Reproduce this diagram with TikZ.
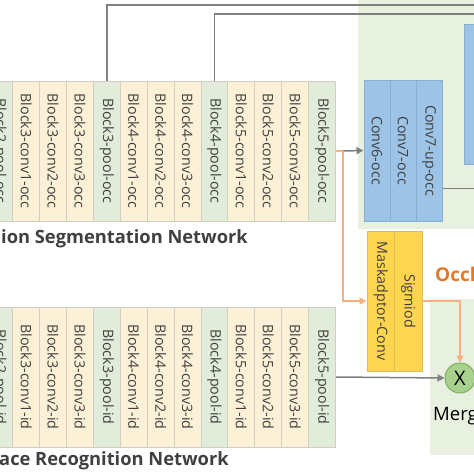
\documentclass[tikz,border=0pt]{standalone}
\usepackage{fontspec}
\setmainfont{Open Sans}
\usetikzlibrary{arrows.meta}
\definecolor{cyel}{HTML}{FCF1D6}
\definecolor{cgrn}{HTML}{E2ECDA}
\definecolor{cbrd}{HTML}{D2CEC2}
\definecolor{ctxt}{HTML}{404040}
\definecolor{cblue}{HTML}{9DC3E6}
\definecolor{cblueb}{HTML}{8AAED3}
\definecolor{cgold}{HTML}{FFD54F}
\definecolor{cgoldb}{HTML}{D9BD5E}
\definecolor{cpanel}{HTML}{E8F0E0}
\definecolor{cline}{HTML}{808080}
\definecolor{corg}{HTML}{F4B183}
\definecolor{corgt}{HTML}{E07B2C}
\definecolor{ccirc}{HTML}{A9D18E}
\definecolor{ccircb}{HTML}{7FB060}
\begin{document}
\begin{tikzpicture}[x=1pt,y=-1pt,
  colbox/.style={draw=cbrd, line width=1pt, rotate=-90, minimum width=140pt, minimum height=26.9pt, inner sep=0pt, text=ctxt, font=\fontsize{14.3}{16}\selectfont},
  bcol/.style={colbox, fill=cblue, draw=cblueb, minimum width=141pt, minimum height=26pt},
  gold/.style={colbox, fill=cgold, draw=cgoldb, minimum width=140pt, minimum height=27.5pt},
  graywire/.style={draw=cline, line width=1.5pt},
  orgwire/.style={draw=corg, line width=1.5pt},
  tip/.style={-{Triangle[length=7pt,width=7pt]}},
  netlabel/.style={anchor=base west, inner sep=0pt, text=ctxt, font=\fontsize{18.3}{20}\selectfont\bfseries},
  panel/.style={fill=cpanel, draw=none}
]
\useasboundingbox (0,0) rectangle (474,474);
\clip (0,0) rectangle (474,474);

% panels
\fill[cpanel] (358,-10) rectangle (490,229);
\fill[cpanel] (430,299) rectangle (490,455);

% top network
\foreach \i/\t/\c in {0/Block2-pool-occ/cgrn, 1/Block3-conv1-occ/cyel, 2/Block3-conv2-occ/cyel, 3/Block3-conv3-occ/cyel, 4/Block3-pool-occ/cgrn, 5/Block4-conv1-occ/cyel, 6/Block4-conv2-occ/cyel, 7/Block4-conv3-occ/cyel, 8/Block4-pool-occ/cgrn, 9/Block5-conv1-occ/cyel, 10/Block5-conv2-occ/cyel, 11/Block5-conv3-occ/cyel, 12/Block5-pool-occ/cgrn}
  \node[colbox, fill=\c] (t\i) at ({12.7+(\i-0.5)*26.9},151) {\t};

% bottom network
\foreach \i/\t/\c in {0/Block2-pool-id/cgrn, 1/Block3-conv1-id/cyel, 2/Block3-conv2-id/cyel, 3/Block3-conv3-id/cyel, 4/Block3-pool-id/cgrn, 5/Block4-conv1-id/cyel, 6/Block4-conv2-id/cyel, 7/Block4-conv3-id/cyel, 8/Block4-pool-id/cgrn, 9/Block5-conv1-id/cyel, 10/Block5-conv2-id/cyel, 11/Block5-conv3-id/cyel, 12/Block5-pool-id/cgrn}
  \node[colbox, fill=\c] (d\i) at ({12.7+(\i-0.5)*26.9},377) {\t};

\node[netlabel] (lab1) at (1,243) {ion Segmentation Network};
\node[netlabel] (lab2) at (-1,465) {ace Recognition Network};

% conv blocks
\node[bcol] (b1) at (377,150.5) {Conv6-occ};
\node[bcol] (b2) at (403,150.5) {Conv7-occ};
\node[bcol] (b3) at (429,150.5) {Conv7-up-occ};
\node[bcol, minimum width=140pt, minimum height=40pt] (b4) at (484,94) {};

% mask adaptor
\node[gold] (m1) at (380.75,301) {Maskadptor-Conv};
\node[gold] (m2) at (408.25,301) {Sigmiod};

% merge
\node[circle, fill=ccirc, draw=ccircb, line width=1pt, minimum size=30pt, inner sep=0pt, font=\fontsize{20}{22}\selectfont] (circ) at (460,378) {X};
\node[anchor=base west, inner sep=0pt, font=\fontsize{18.5}{20}\selectfont] (merg) at (433,420) {Merg};
\node[anchor=base west, inner sep=0pt, text=corgt, font=\fontsize{19}{22}\selectfont\bfseries] (occl) at (435,281) {Occl};

% top skip lines
\coordinate (e1) at (490,5);
\coordinate (e2) at (490,14);
\draw[graywire] (t4.west) |- (e1);
\draw[graywire] (t8.west) |- (e2);
\draw[graywire] ([yshift=-38pt]b3.north) -- ++(50,0);

% connectors
\coordinate (ob) at (343,151);
\draw[orgwire] (t12.north) -- (ob);
\draw[graywire, tip] (ob) -- (b1.south);
\draw[orgwire, tip] (ob) |- (m1.south);
\draw[orgwire, tip] (m2.north) -| (circ.north);
\draw[graywire, tip] (d12.north) -- (circ.west);
\end{tikzpicture}
\end{document}
